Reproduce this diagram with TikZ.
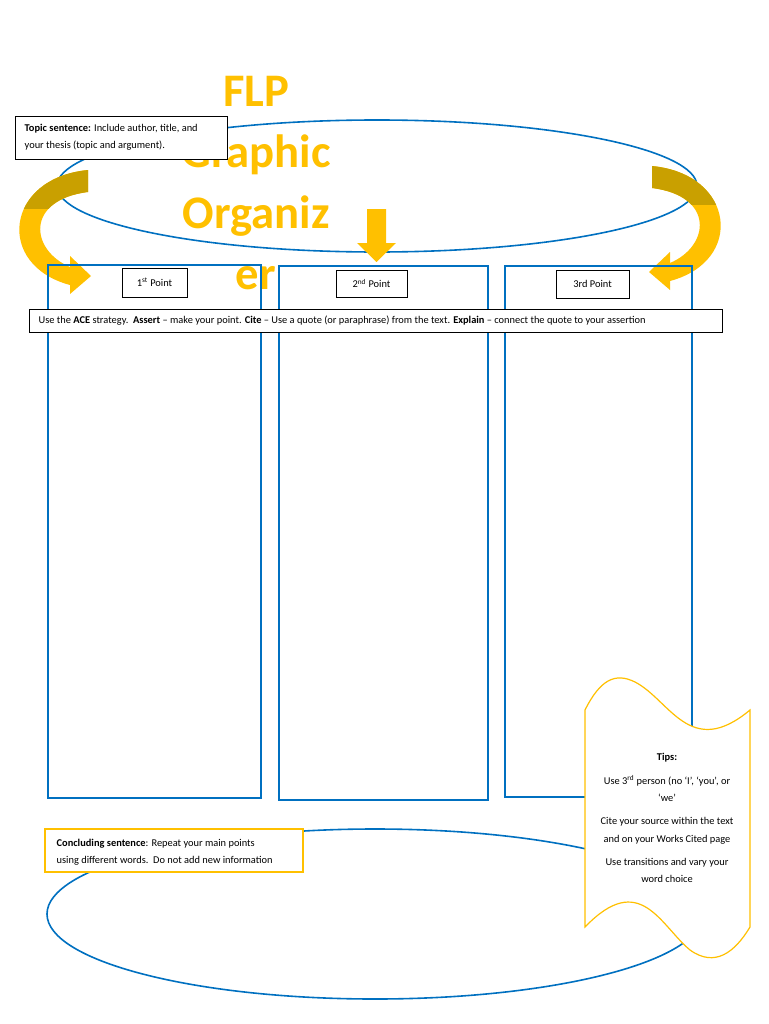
\documentclass[tikz,border=0pt]{standalone}
\usepackage{fontspec}
\setmainfont{Carlito}
\definecolor{gold}{HTML}{FFC000}
\definecolor{dgold}{HTML}{C9A000}
\definecolor{myblue}{HTML}{0070C0}
\begin{document}
\begin{tikzpicture}[x=0.75pt,y=-0.75pt,
  bline/.style={draw=myblue,line width=1.2pt},
  kbox/.style={draw=black,line width=0.7pt,fill=white},
  small/.style={font=\fontsize{7.8}{12.8}\selectfont}]
\useasboundingbox (0,0) rectangle (768,1024);
% top ellipse
\draw[bline] (377,186) ellipse [x radius=320, y radius=66];
% title
\node[text=gold,font=\bfseries\fontsize{35}{45.7}\selectfont,align=center] (title) at (256,183) {FLP\\Graphic\\Organiz\\er};
% topic box
\draw[kbox] (15,116) rectangle (227,159);
\node[small,anchor=north west,align=left] (topic) at (20,119) {\textbf{Topic sentence:} Include author, title, and\\your thesis (topic and argument).};
% left curved arrow
\def\curvarrow{
  \fill[gold] (88,170) .. controls (5,178) and (-5,265) .. (70,285) -- (70,294) -- (91,276) -- (70,256) -- (70,267) .. controls (30,250) and (25,200) .. (88,192) -- cycle;
  \begin{scope}
  \clip (0,150) rectangle (100,208);
  \fill[dgold] (88,170) .. controls (5,178) and (-5,265) .. (70,285) -- (70,267) .. controls (30,250) and (25,200) .. (88,192) -- cycle;
  \end{scope}}
\curvarrow
\begin{scope}[xshift=740*0.75pt,xscale=-1,yshift=3pt]
\curvarrow
\end{scope}
% down arrow
\fill[gold] (367,209) -- (386,209) -- (386,243) -- (396,243) -- (376.5,262) -- (357,243) -- (367,243) -- cycle;
% columns
\draw[bline] (48,265) rectangle (261,798);
\draw[myblue,line width=0.8pt] (279,266) rectangle (488,800);
\draw[bline] (505,266) rectangle (692,797);
% point boxes
\node[kbox,small,minimum width=65*0.75pt,minimum height=29*0.75pt] (p1) at (154.5,282.5) {1\textsuperscript{st} Point};
\node[kbox,small,minimum width=71*0.75pt,minimum height=27*0.75pt] (p2) at (371.5,283.5) {2\textsuperscript{nd} Point};
\node[kbox,small,minimum width=73*0.75pt,minimum height=28*0.75pt] (p3) at (592.5,284) {3rd Point};
% ACE box
\node[kbox,small,minimum width=693*0.75pt,minimum height=23*0.75pt,anchor=north west,inner sep=0pt] (ace) at (29,309) {};
\node[small,anchor=west] (acet) at (34,320.5) {Use the \textbf{ACE} strategy.\ \ \textbf{Assert} -- make your point. \textbf{Cite} -- Use a quote (or paraphrase) from the text. \textbf{Explain} -- connect the quote to your assertion};
% bottom ellipse
\draw[bline] (375,914) ellipse [x radius=328, y radius=85];
% concluding box
\draw[draw=gold,line width=0.8pt,fill=white] (45,829) rectangle (303,872);
\node[small,anchor=north west,align=left] (conc) at (52,834) {\textbf{Concluding sentence}: Repeat your main points\\using different words.\ \ Do not add new information};
% tips wave
\filldraw[draw=gold,line width=0.9pt,fill=white] (585,710) .. controls (600,680) and (615,672) .. (635,682) .. controls (670,700) and (690,760) .. (750,710) -- (750,927) .. controls (735,952) and (715,968) .. (690,950) .. controls (660,925) and (640,870) .. (585,927) -- cycle;
\node[small,align=center] (tips) at (667,818) {\textbf{Tips:}\\[5pt]Use 3\textsuperscript{rd} person (no `I', `you', or\\`we'\\[5pt]Cite your source within the text\\and on your Works Cited page\\[5pt]Use transitions and vary your\\word choice};
\end{tikzpicture}
\end{document}
